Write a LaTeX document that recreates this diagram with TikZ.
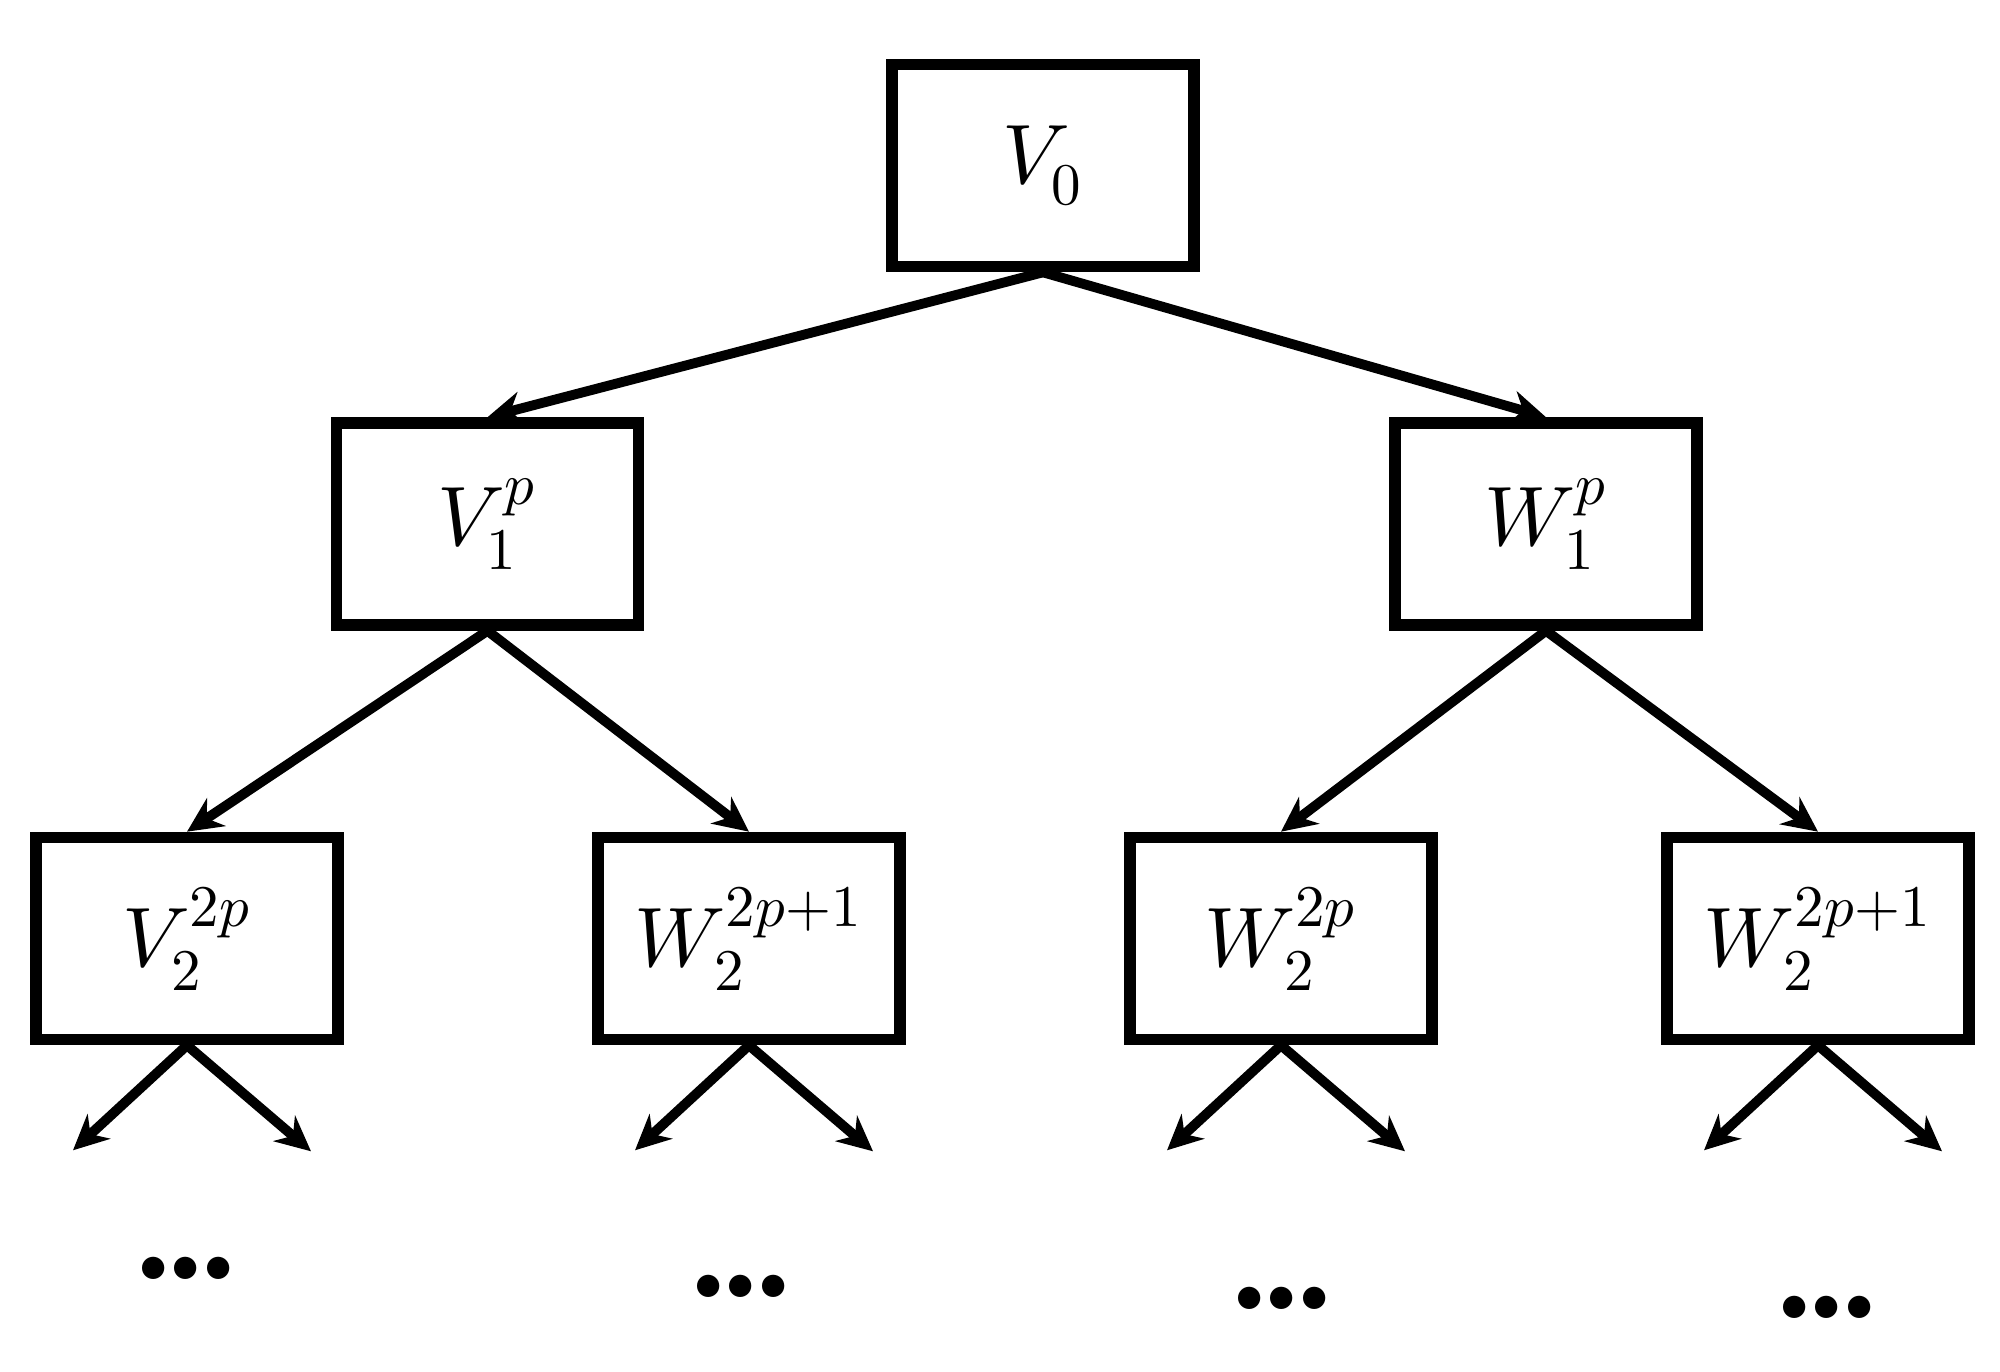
\documentclass[tikz,border=0pt]{standalone}
\usepackage{unicode-math}
\usetikzlibrary{arrows.meta}

\tikzset{
  box/.style={draw, line width=3.3pt, minimum width=3.02cm, minimum height=2.02cm,
    inner sep=0pt, font=\fontsize{24}{28}\selectfont},
  arr/.style={line width=2.8pt, -{Stealth[length=10pt,width=9.5pt]}},
  dots/.style={inner sep=0pt, font=\fontsize{44}{44}\selectfont\bfseries}
}

\begin{document}
\begin{tikzpicture}

\useasboundingbox (0,0) rectangle (20,-13.72);

% levels 0 and 1
\node[box] (v0) at (10.43,-1.655) {$V_0$};
\node[box] (v1) at (4.875,-5.24) {$V_1^p$};
\node[box] (w1) at (15.46,-5.24) {$W_1^p$};

% level 2
\node[box] (v2) at (1.87,-9.385) {$V_2^{2p}$};
\node[box] (w2a) at (7.49,-9.385) {$W_2^{2p+1}$};
\node[box] (w2b) at (12.81,-9.385) {$W_2^{2p}$};
\node[box] (w2c) at (18.18,-9.385) {$W_2^{2p+1}$};

\draw[arr] (v0.south) -- (v1.north);
\draw[arr] (v0.south) -- (w1.north);
\draw[arr] (v1.south) -- (v2.north);
\draw[arr] (v1.south) -- (w2a.north);
\draw[arr] (w1.south) -- (w2b.north);
\draw[arr] (w1.south) -- (w2c.north);

% open ends
\foreach \b in {v2, w2a, w2b, w2c} {
    \coordinate (\b l) at ([shift={(-1.14,-1.05)}]\b.south);
    \coordinate (\b r) at ([shift={(1.24,-1.06)}]\b.south);
    \draw[arr] (\b.south) -- (\b l);
    \draw[arr] (\b.south) -- (\b r);
}

\node[dots] (dv2) at (1.86,-12.68) {.\kern-4.5pt.\kern-4.5pt.};
\node[dots] (dw2a) at (7.41,-12.86) {.\kern-4.5pt.\kern-4.5pt.};
\node[dots] (dw2b) at (12.82,-12.98) {.\kern-4.5pt.\kern-4.5pt.};
\node[dots] (dw2c) at (18.27,-13.07) {.\kern-4.5pt.\kern-4.5pt.};

\end{tikzpicture}
\end{document}
